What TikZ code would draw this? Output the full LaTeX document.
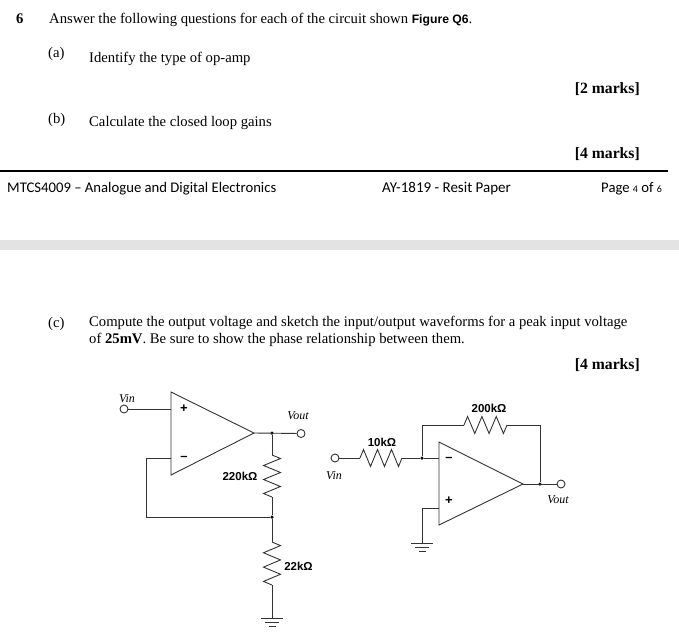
\documentclass[tikz,border=0pt]{standalone}
\usepackage{fontspec}
\setmainfont{Liberation Serif}
\newfontfamily\arialf{Liberation Sans}
\newfontfamily\calib{Carlito}
\usetikzlibrary{calc}
\tikzset{
  body/.style={anchor=base west,inner sep=0pt,font=\fontsize{14.67}{16}\selectfont},
  marks/.style={anchor=base east,inner sep=0pt,font=\fontsize{15.7}{16}\selectfont\bfseries},
  foot/.style={anchor=base west,inner sep=0pt,font=\calib\fontsize{14.7}{16}\selectfont},
  val/.style={inner sep=0pt,font=\arialf\bfseries\fontsize{11.5}{12}\selectfont},
  vlab/.style={inner sep=0pt,font=\itshape\fontsize{12}{12}\selectfont},
  wire/.style={draw=black!80,line width=0.9pt},
  term/.style={circle,draw=black!80,line width=0.9pt,fill=white,minimum size=8pt,inner sep=0pt},
  dot/.style={circle,fill=black,minimum size=3.5pt,inner sep=0pt},
  sign/.style={inner sep=0pt,font=\arialf\bfseries\fontsize{13}{13}\selectfont},
}
\newcommand{\gnd}[1]{%
  \draw[wire] ($(#1)+(-11,0)$) -- ($(#1)+(11,0)$);
  \draw[wire] ($(#1)+(-7,4)$) -- ($(#1)+(7,4)$);
  \draw[wire] ($(#1)+(-3.5,8)$) -- ($(#1)+(3.5,8)$);
}
% resistor zigzag from #1 to #2; #3 = offset of the first peak
\newcommand{\zz}[3]{%
  \draw[wire,line join=miter] (#1)
    -- ($(#1)!0.0833!(#2)+#3$)
    -- ($(#1)!0.25!(#2)-#3$)
    -- ($(#1)!0.4167!(#2)+#3$)
    -- ($(#1)!0.5833!(#2)-#3$)
    -- ($(#1)!0.75!(#2)+#3$)
    -- ($(#1)!0.9167!(#2)-#3$)
    -- (#2);
}
\begin{document}
\begin{tikzpicture}[x=1pt,y=-1pt]
\useasboundingbox (0,0) rectangle (679,633);
\fill[white] (0,0) rectangle (679,633);
% text
\node[body,font=\fontsize{14.67}{16}\selectfont\bfseries] (qn) at (16,23) {6};
\node[body] (q) at (49,23) {Answer the following questions for each of the circuit shown {\arialf\bfseries\fontsize{12.2}{14}\selectfont Figure Q6}.};
\node[body] (la) at (48,57) {(a)};
\node[body] (ta) at (89,62) {Identify the type of op-amp};
\node[marks] (m1) at (640,93) {[2 marks]};
\node[body] (lb) at (48,123) {(b)};
\node[body] (tb) at (89,126) {Calculate the closed loop gains};
\node[marks] (m2) at (640,158) {[4 marks]};
\fill[black] (0,169.5) rectangle (668,171.5);
\node[foot] (f1) at (7,192) {MTCS4009 – Analogue and Digital Electronics};
\node[foot,font=\calib\fontsize{15}{16}\selectfont] (f2) at (382,192) {AY-1819 - Resit Paper};
\node[foot] (f3) at (601,192) {Page {\fontsize{10}{12}\selectfont 4} of {\fontsize{10}{12}\selectfont 6}};
\fill[black!11] (0,240) rectangle (679,250);
\node[body] (lc) at (48,327) {(c)};
\node[body] (tc1) at (89,326) {Compute the output voltage and sketch the input/output waveforms for a peak input voltage};
\node[body] (tc2) at (89,343) {of \textbf{25mV}. Be sure to show the phase relationship between them.};
\node[marks] (m3) at (640,369) {[4 marks]};
% left amp
\coordinate (LA) at (171,392); \coordinate (LB) at (171,475); \coordinate (LT) at (254,433);
\coordinate (LP) at (171,409); \coordinate (LM) at (171,458);
\coordinate (Lc) at (146,458); \coordinate (Ld) at (146,517);
\node[dot] (Ln1) at (272,433) {};
\node[dot] (Ln2) at (272,517) {};
\node[term] (Lin) at (124,409) {};
\node[term] (Lout) at (301,433.5) {};
\coordinate (R1a) at (272,455); \coordinate (R1b) at (272,497);
\coordinate (R2a) at (272,542); \coordinate (R2b) at (272,585);
\coordinate (Lg) at (272,618);
\draw[wire] (LA) -- (LT) -- (LB) -- cycle;
\draw[wire] (Lin) -- (LP);
\draw[wire] (LM) -- (Lc) -- (Ld) -- (Ln2);
\draw[wire] (LT) -- (Lout);
\draw[wire] (Ln1) -- (R1a); \zz{R1a}{R1b}{(8.5,0)} \draw[wire] (R1b) -- (Ln2);
\draw[wire] (Ln2) -- (R2a); \zz{R2a}{R2b}{(8.5,0)} \draw[wire] (R2b) -- (Lg);
\gnd{Lg}
\node[sign] (Lps) at (184,408.5) {+};
\node[sign] (Lms) at (184,458) {–};
\node[vlab] (Lv) at (127,399) {Vin};
\node[vlab] (Lo) at (298,416) {Vout};
\node[val] (Lr1) at (240,476) {220kΩ};
\node[val] (Lr2) at (298.5,566) {22kΩ};
% right amp
\coordinate (RA) at (439,442); \coordinate (RB) at (439,525); \coordinate (RT) at (523,484);
\coordinate (RM) at (439,458); \coordinate (RP) at (439,508);
\node[term] (Rin) at (335,458) {};
\node[term] (Rout) at (561,484) {};
\node[dot] (Rn1) at (422,458) {};
\node[dot] (Rn2) at (540,484) {};
\coordinate (R3a) at (360,458); \coordinate (R3b) at (402,458);
\coordinate (Rf0) at (422,425); \coordinate (R4a) at (464,425); \coordinate (R4b) at (507,425); \coordinate (Rf1) at (540,425);
\coordinate (Rc) at (422,508); \coordinate (Rg) at (422,543);
\draw[wire] (RA) -- (RT) -- (RB) -- cycle;
\draw[wire] (Rin) -- (R3a); \zz{R3a}{R3b}{(0,-8.5)} \draw[wire] (R3b) -- (Rn1) -- (RM);
\draw[wire] (Rn1) -- (Rf0) -- (R4a); \zz{R4a}{R4b}{(0,-8.5)} \draw[wire] (R4b) -- (Rf1) -- (Rn2);
\draw[wire] (RT) -- (Rout);
\draw[wire] (RP) -- (Rc) -- (Rg);
\gnd{Rg}
\node[sign] (Rps) at (449,501) {+};
\node[sign] (Rms) at (449,459) {–};
\node[vlab] (Rv) at (334,476) {Vin};
\node[vlab] (Ro) at (558,500) {Vout};
\node[val] (Rr1) at (382,442) {10kΩ};
\node[val] (Rr2) at (489,408) {200kΩ};
\end{tikzpicture}
\end{document}
